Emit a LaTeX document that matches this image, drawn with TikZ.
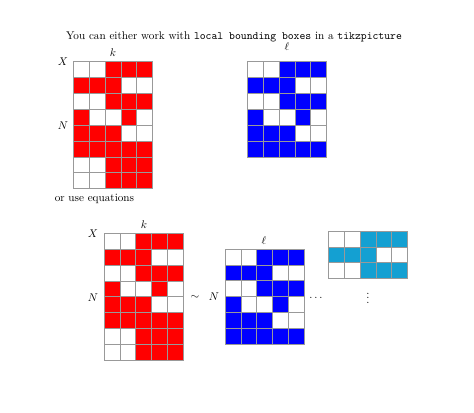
\documentclass[tikz,border=0pt]{standalone}
\definecolor{mycyan}{RGB}{20,160,210}
\tikzset{
  gridline/.style={draw=gray!80, line width=0.5pt},
  lbl/.style={inner sep=0.5pt},
}
\newcommand\drawcellgrid[4]{%
  \foreach \row [count=\r] in {#4} {
    \foreach \v [count=\c] in \row {
      \ifnum\v=1
        \fill[#3] ({#1+(\c-1)*15.85},{#2+(\r-1)*15.85}) rectangle +(15.85,15.85);
      \fi
      \draw[gridline] ({#1+(\c-1)*15.85},{#2+(\r-1)*15.85}) rectangle +(15.85,15.85);
    }
  }%
}
\begin{document}
\begin{tikzpicture}[x=0.031447cm, y=-0.031447cm]
\useasboundingbox (0,0) rectangle (474,413);
% title
\node[lbl] (title) at (234,37) {You can either work with \texttt{local bounding boxes} in a \texttt{tikzpicture}};
% top red
\drawcellgrid{73.3}{61.7}{red}{{0,0,1,1,1},{1,1,1,0,0},{0,0,1,1,1},{1,0,0,1,0},{1,1,1,0,0},{1,1,1,1,1},{0,0,1,1,1},{0,0,1,1,1}}
\node[lbl] (X1) at (63,62) {$X$};
\node[lbl] (k1) at (113,53) {$k$};
\node[lbl] (N1) at (63,126) {$N$};
% top blue
\drawcellgrid{247.3}{61.7}{blue}{{0,0,1,1,1},{1,1,1,0,0},{0,0,1,1,1},{1,0,0,1,0},{1,1,1,0,0},{1,1,1,1,1}}
\node[lbl] (l1) at (287,47) {$\ell$};
% text
\node[lbl, anchor=west] (eq) at (54,199) {or use equations};
% bottom red
\drawcellgrid{104}{233.3}{red}{{0,0,1,1,1},{1,1,1,0,0},{0,0,1,1,1},{1,0,0,1,0},{1,1,1,0,0},{1,1,1,1,1},{0,0,1,1,1},{0,0,1,1,1}}
\node[lbl] (X2) at (93,234) {$X$};
\node[lbl] (k2) at (144,225) {$k$};
\node[lbl] (N2) at (93,298) {$N$};
\node[lbl] (sim) at (195,297) {$\sim$};
% bottom blue
\drawcellgrid{225}{249}{blue}{{0,0,1,1,1},{1,1,1,0,0},{0,0,1,1,1},{1,0,0,1,0},{1,1,1,0,0},{1,1,1,1,1}}
\node[lbl] (N3) at (214,297) {$N$};
\node[lbl] (l2) at (264,241) {$\ell$};
\node[lbl] (dots) at (316,298) {$\dots$};
% cyan
\drawcellgrid{328.3}{231}{mycyan}{{0,0,1,1,1},{1,1,1,0,0},{0,0,1,1,1}}
\node[lbl] (vd) at (368,295) {$\vdots$};
\end{tikzpicture}
\end{document}
